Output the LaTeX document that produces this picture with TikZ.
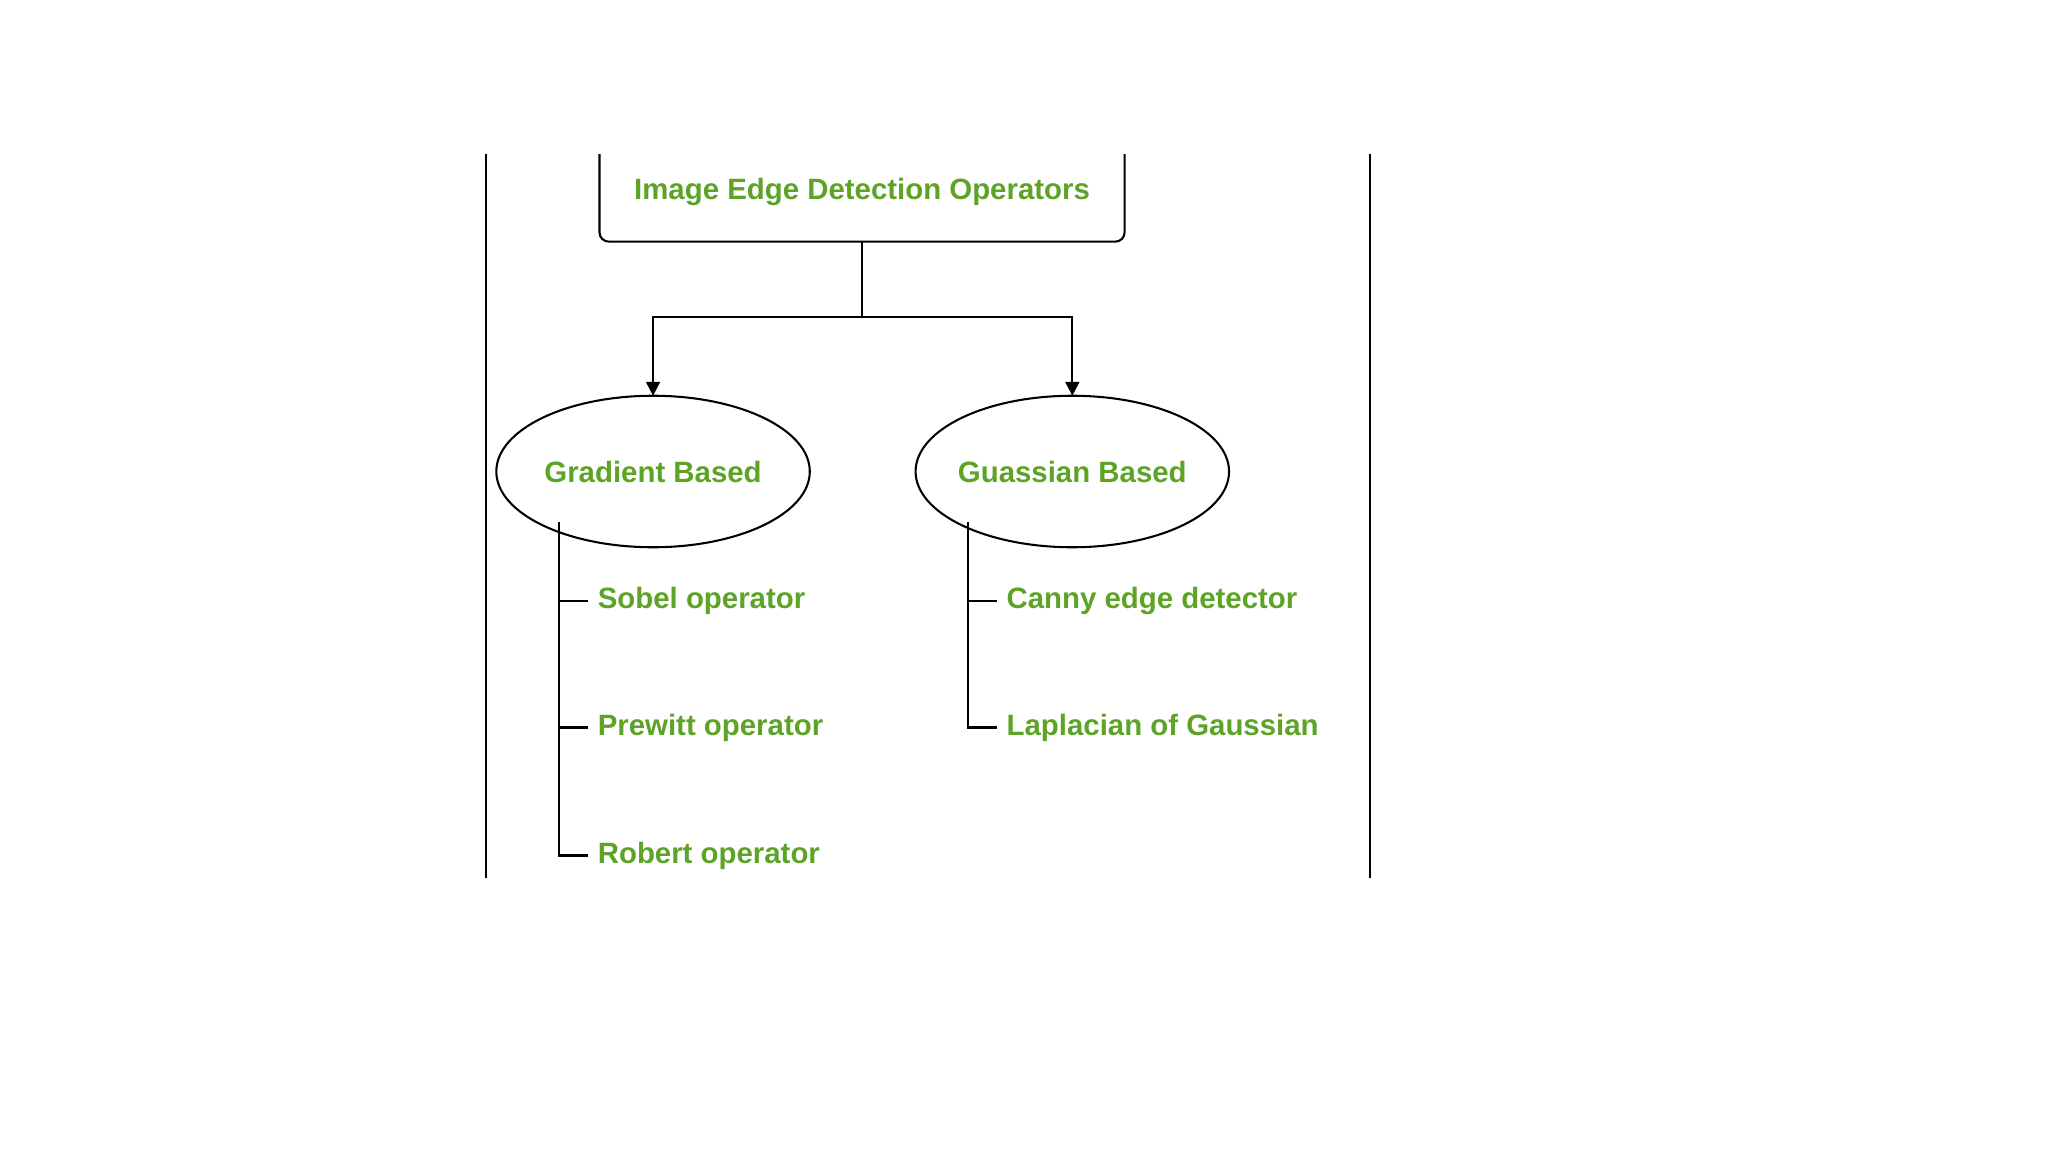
\documentclass[tikz,border=0pt]{standalone}
\usepackage{fontspec}
\setmainfont{Liberation Sans}
\usetikzlibrary{arrows.meta}
\definecolor{gg}{RGB}{92,163,38}
\begin{document}
\begin{tikzpicture}[x=0.01cm,y=-0.01cm,
  lbl/.style={text=gg,font=\fontsize{6.4}{8}\selectfont\bfseries,inner sep=0},
  ln/.style={draw=black,line width=0.45pt},
  arr/.style={ln,-{Triangle[length=3pt,width=3pt]}}]
\useasboundingbox (0,0) rectangle (1568,882);
\draw[ln] (372,118)--(372,672);
\draw[ln] (1049,118)--(1049,672);
\draw[ln,rounded corners=2pt] (459,118)--(459,185)--(861,185)--(861,118);
\node[lbl] (top) at (660,147) {Image Edge Detection Operators};
\coordinate (tb) at (660,185);
\draw[ln] (500,361) ellipse [x radius=120,y radius=58];
\draw[ln] (821,361) ellipse [x radius=120,y radius=58];
\node[lbl] (g) at (500,361) {Gradient Based};
\node[lbl] (q) at (821,361) {Guassian Based};
\coordinate (gt) at (500,303);
\coordinate (qt) at (821,303);
\draw[arr] (tb)--(660,243)-|(gt);
\draw[arr] (660,243)-|(qt);
\draw[ln] (428,400)--(428,655)--(450,655);
\draw[ln] (428,460)--(450,460);
\draw[ln] (428,557)--(450,557);
\draw[ln] (741,400)--(741,557)--(763,557);
\draw[ln] (741,460)--(763,460);
\node[lbl,anchor=west] (s) at (457,460) {Sobel operator};
\node[lbl,anchor=west] (p) at (457,557) {Prewitt operator};
\node[lbl,anchor=west] (r) at (457,655) {Robert operator};
\node[lbl,anchor=west] (c) at (770,460) {Canny edge detector};
\node[lbl,anchor=west] (l) at (770,557) {Laplacian of Gaussian};
\end{tikzpicture}
\end{document}
